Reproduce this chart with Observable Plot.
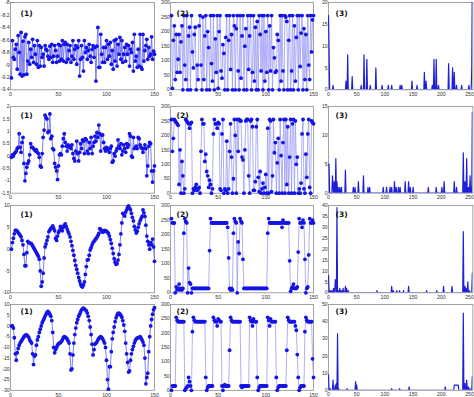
<!DOCTYPE html>
<html><head><meta charset="utf-8">
<script src="https://cdn.jsdelivr.net/npm/d3@7"></script>
<script src="https://cdn.jsdelivr.net/npm/@observablehq/plot@0.6"></script>
<style>
body{margin:0;background:#fff;}
#c{position:relative;width:474px;height:397px;overflow:hidden;background:#fff;}
#c svg{position:absolute;overflow:visible;}
</style></head><body><div id="c"></div>
<script>
// ---------- DATA ----------
const labels = ["(1)", "(2)", "(3)"];
const xTicksSeq = [0, 50, 100, 150];
const xTicksHist = [0, 50, 100, 150, 200, 250];
const yTicks1 = [[-9.4,-9.2,-9,-8.8,-8.6,-8.4,-8.2,-8],[-1.5,-1,-0.5,0,0.5,1,1.5,2],[-10,-5,0,5,10],[-30,-25,-20,-15,-10,-5,0,5,10]];
const yTicks2 = [0, 50, 100, 150, 200, 250, 300];
const yTicks3 = [[0,5,10,15,20],[0,5,10,15],[0,5,10,15,20,25,30,35,40],[0,10,20,30,40,50]];

// column (1): sequences, index 1..150
const seq1a = [-9.21,-8.61,-8.88,-8.91,-8.75,-8.67,-9.07,-8.53,-8.80,-9.15,-8.48,-9.18,-8.62,-9.16,-8.55,
-8.51,-9.15,-8.94,-8.64,-8.99,-8.75,-8.88,-8.59,-8.96,-8.69,-8.83,-8.99,-8.61,-9.04,-8.69,
-9.02,-8.72,-8.88,-8.83,-9.02,-8.69,-8.75,-8.77,-8.86,-8.91,-8.70,-8.88,-8.67,-8.96,-8.86,
-8.69,-8.77,-8.96,-8.86,-8.67,-8.94,-8.69,-8.91,-8.61,-8.94,-8.67,-8.64,-8.96,-8.67,-8.91,
-8.77,-8.69,-8.96,-8.86,-8.61,-8.91,-8.75,-8.69,-8.99,-8.72,-8.61,-9.18,-8.91,-8.69,-8.88,
-9.10,-8.61,-8.80,-8.72,-8.91,-8.77,-8.67,-8.86,-8.96,-8.75,-8.69,-8.88,-8.72,-9.26,-8.70,
-8.40,-9.04,-9.04,-8.51,-8.83,-8.96,-8.72,-8.96,-8.72,-8.61,-8.91,-8.67,-8.86,-8.64,-8.99,
-8.77,-9.07,-8.61,-8.94,-8.59,-9.02,-8.67,-8.83,-8.56,-8.91,-8.61,-8.96,-8.83,-8.72,-8.94,
-8.67,-8.83,-8.69,-9.02,-8.75,-8.80,-8.64,-9.10,-8.51,-8.94,-8.86,-9.04,-8.75,-9.02,-8.51,
-9.04,-9.07,-8.51,-8.94,-8.77,-8.69,-8.59,-8.91,-8.72,-8.86,-8.83,-8.55,-8.91,-8.78,-8.83];
const seq1b = [-0.05,0.05,0.0,0.1,0.15,0.2,0.3,0.35,0.9,0.35,0.15,0.55,0.75,-0.3,-1.0,
-0.7,-0.45,-0.3,-0.2,0.05,0.5,0.35,0.35,0.3,0.25,0.2,0.25,0.15,0.1,-0.05,
-0.4,-0.45,0.1,0.75,1.05,1.65,1.55,1.5,0.95,1.0,1.7,0.7,0.8,0.3,0.25,
-0.3,-0.45,-0.6,-0.95,-0.4,0.05,0.1,0.05,0.4,0.7,0.9,0.55,0.4,0.2,0.45,
0.35,0.4,0.3,0.45,0.1,-0.1,-0.2,0.2,0.6,0.1,-0.2,0.15,0.5,0.3,0.65,
0.6,0.1,0.7,0.65,0.2,0.1,0.55,0.3,0.75,0.1,0.4,0.55,0.8,0.6,0.95,
0.75,1.25,0.9,0.2,0.85,0.85,0.55,0.3,0.2,0.35,0.25,0.3,0.15,0.3,0.4,
-0.25,-0.2,0.1,0.0,0.2,0.3,0.65,0.4,0.3,0.5,0.05,0.2,0.45,0.3,0.15,
0.5,0.35,0.45,0.9,0.8,0.0,-0.05,0.75,0.3,0.35,0.4,0.3,0.75,0.7,0.45,
0.35,0.3,0.15,0.3,0.45,0.3,-0.8,-0.4,0.4,0.55,0.5,-0.6,-1.05,-0.6,-0.4];
const seq1c = [0.0,1.5,2.5,3.5,4.3,4.3,4.1,3.8,3.5,3.2,2.8,2.0,1.0,-1.2,-3.8,
-3.8,-0.8,1.8,1.5,1.4,1.3,1.2,0.8,0.4,0.0,-0.4,-0.8,-1.2,-1.6,-2.3,
-5.0,-8.5,-7.5,-5.5,-2.0,0.5,1.2,2.0,2.8,4.0,4.4,4.7,5.0,5.3,4.8,
4.2,2.5,2.0,3.0,3.8,4.3,5.2,4.8,4.2,5.0,5.5,5.8,5.2,4.6,4.0,
3.5,2.8,1.8,0.8,-0.3,-1.4,-2.6,-3.7,-4.6,-5.5,-6.5,-7.3,-8.0,-8.5,-8.7,
-8.2,-7.5,-5.8,-4.0,-2.5,-2.4,-1.4,-0.2,0.4,1.0,1.5,1.8,2.1,2.4,2.7,
3.1,3.6,4.7,4.5,4.2,3.9,4.0,4.3,4.2,4.1,3.9,3.6,3.0,2.2,1.3,
0.2,-1.0,-2.2,-3.0,-3.5,-3.3,-2.5,-1.2,1.0,3.5,6.0,8.2,8.0,7.6,8.5,
9.0,9.6,9.9,9.4,9.0,8.2,7.3,6.5,5.2,4.4,3.7,4.1,5.0,5.8,6.5,
7.0,7.5,9.0,8.3,7.5,5.5,3.0,1.8,1.0,0.0,1.5,1.0,2.3,0.5,-2.8];
const seq1d = [0,0,-1,-5.5,-13,-16,-12.5,-10.5,-9,-8,-7.2,-6.5,-5.8,-5,-4.5,
-4.2,-4.3,-4.7,-5.3,-6.5,-7.2,-8,-13,-18,-14,-13.5,-9,-6.5,-5,-3,
-1.5,0,1.5,2.5,3.5,4.5,5.5,6.3,6.8,6.3,5.5,4.5,2.5,-3,-10,
-12.5,-11,-10,-9,-8.2,-8,-7.8,-7.2,-6.5,-5.5,-5,-5.2,-5.6,-6,-7,
-8,-13,-20.5,-20,-13.5,-8,-4,-1,1.5,3,4.5,5.5,6.5,7.5,8.0,
8.3,8.0,7.5,7.0,6.0,4.5,2.5,-0.5,-4,-8.5,-13.5,-11,-8.5,-8,-7.5,
-6.5,-5.8,-5.3,-5,-5.5,-6,-7,-8,-10,-16,-25,-29.5,-19,-19,-12,
-6,-3,-0.5,2,3.8,5.0,5.8,6.0,5.5,5.0,4.0,2.5,0.5,-2.5,-8,
-13,-17,-21.5,-21,-16,-13,-11,-9.5,-8,-6.8,-6,-5.7,-5.5,-5.3,-5.0,
-5.6,-6.5,-7.5,-9,-15,-27,-24,-22,-12,-5,0,3,5.5,7.5,8.5];

// column (2): sequences, index 1..150
const seq2a = [255,5,170,220,35,190,60,105,190,60,165,220,0,255,85,35,255,0,185,215,0,255,130,75,190,215,0,85,35,220,255,85,0,250,35,185,255,0,200,145,0,255,90,30,255,0,175,60,255,5,
200,255,65,40,155,125,0,180,255,0,170,255,70,190,0,255,220,0,210,255,65,0,255,40,185,255,0,150,210,0,255,70,185,255,0,60,255,30,215,0,235,0,255,190,65,255,0,255,30,200,
60,255,0,220,65,255,0,145,110,60,65,190,170,0,255,30,255,65,0,255,250,235,0,170,255,0,65,255,0,220,30,180,255,0,255,80,195,255,0,210,35,190,0,255,85,35,255,130,240,255];
const seq2b = [255,145,190,255,250,245,240,235,30,150,0,110,60,0,15,255,250,245,240,225,240,245,0,15,10,20,30,10,15,20,0,145,255,240,240,110,135,75,60,20,45,30,0,15,205,255,240,240,225,245,
240,15,10,205,255,0,15,10,180,0,15,145,240,125,0,50,255,200,0,255,145,255,250,250,125,115,0,150,250,255,255,60,0,250,255,230,10,10,40,230,255,55,5,75,0,15,35,0,20,65,
0,225,0,255,250,5,60,255,140,175,0,105,190,0,255,130,0,175,255,0,255,30,230,0,125,255,0,240,255,0,250,100,125,0,15,0,35,205,255,15,0,135,55,205,255,20,0,250,245,240];
const seq2c = [255,240,240,240,0,20,10,15,30,10,15,10,15,205,255,245,240,0,85,35,30,0,
15,15,15,15,15,15,15,15,15,15,15,15,15,15,15,15,15,15,145,255,
240,240,240,240,240,240,240,240,240,240,240,240,240,240,240,240,240,225,120,15,10,15,10,205,255,245,240,0,175,135,255,245,240,115,
15,15,15,15,15,15,15,15,15,15,15,15,15,15,15,15,15,15,15,15,15,15,15,15,15,
205,255,240,240,240,240,240,240,240,240,240,240,240,240,240,225,250,240,240,240,240,240,240,
110,5,15,20,30,15,15,15,20,140,255,240,240,225,250,240,115,0,15,20,130,255,240,240,250,240];
const seq2d = [0,15,15,15,15,255,245,240,240,240,240,240,240,240,0,5,10,15,45,30,15,0,
205,255,245,240,240,240,240,240,240,240,240,240,240,240,45,0,10,15,15,15,15,15,
255,245,240,240,225,250,245,240,240,15,0,15,20,15,15,15,15,140,
255,245,240,240,240,240,240,240,240,240,240,15,10,15,15,15,15,15,15,15,
255,245,240,225,250,240,240,240,45,0,10,15,15,15,15,15,15,15,15,
255,245,225,250,240,240,240,240,240,45,0,10,15,15,15,15,15,15,15,15,
140,255,245,240,240,240,240,240,240,225,210,125,45,0,10,15,15,15,15,
205,255,245,240,240,240,240,240,110,45];

// column (3): histograms over 0..255, listed as [bin, count]; every other bin is 0
const hist3a = [[0,17],[1,9],[8,1],[31,2],[34,8],[42,3],[58,1],[63,8],[68,7],[74,1],[84,5],[95,1],[106,1],[112,1],[127,1],[130,1],[148,2],[157,1],[170,4],[173,2],[184,1],[187,7],[191,7],[195,1],[213,6],[220,5],[223,4],[227,1],[236,1],[249,1],[254,5],[255,25]];
const hist3b = [[0,5],[1,5],[7,3],[8,1],[10,2],[13,6],[15,2],[17,1],[20,1],[23,1],[30,4],[44,1],[47,1],[53,2],[62,3],[70,1],[73,1],[97,1],[103,1],[109,1],[112,1],[117,2],[120,1],[124,1],[127,1],[136,2],[142,2],[145,1],[150,1],[177,1],[191,1],[201,1],[205,2],[223,2],[227,1],[239,7],[242,2],[245,6],[248,1],[251,3],[253,1],[255,14]];
const hist3c = [[0,8],[3,1],[6,1],[9,2],[12,6],[13,3],[15,39],[17,1],[20,2],[23,1],[26,2],[30,3],[32,2],[35,1],[86,1],[112,3],[115,1],[121,1],[126,1],[133,1],[142,3],[174,1],[192,1],[204,3],[219,3],[239,28],[242,3],[244,2],[247,5],[250,1],[255,9]];
const hist3d = [[0,9],[3,1],[8,6],[10,1],[12,3],[14,4],[16,33],[18,1],[33,1],[48,5],[50,3],[112,1],[126,1],[143,2],[207,2],[223,3],[224,3],[225,3],[226,3],[227,3],[228,3],[229,3],[230,3],[239,45],[242,4],[245,6],[248,2],[251,1],[255,8]];

// ---------- LAYOUT ----------
const colFrames = [[10,154],[170,313],[328,472.4]];
const rowFrames = [[1.7,89],[106,192.7],[205,292.3],[303.5,389.3]];
const labelDx = [10, 6, 7];
const labelDy = [11, 9, 9.5, 7.5];
const M = {l: 18, r: 3, t: 3, b: 11};
const dotColor = "#1414e6";
const lineColor1 = "#5c5cf5";
const lineColor2 = "#9a9af8";
const histColor = "#1f1fd9";
const frameColor = "#8c8c8c";

const seqs = [[seq1a, seq2a], [seq1b, seq2b], [seq1c, seq2c], [seq1d, seq2d]];
const hists = [hist3a, hist3b, hist3c, hist3d];
const fmt = d => String(d);
const container = document.getElementById("c");

function place(svg, col, row) {
  const [fl] = colFrames[col], [ft] = rowFrames[row];
  svg.style.left = (fl - M.l) + "px";
  svg.style.top = (ft - M.t) + "px";
  container.appendChild(svg);
}

function common(col, row, xDomain, xTicks, yDomain, yTicks) {
  const [fl, fr] = colFrames[col], [ft, fb] = rowFrames[row];
  return {
    width: (fr - fl) + M.l + M.r,
    height: (fb - ft) + M.t + M.b,
    marginLeft: M.l, marginRight: M.r, marginTop: M.t, marginBottom: M.b,
    style: {fontSize: "5.2px", fontFamily: "'Liberation Sans', Arial, sans-serif", color: "#333", background: "transparent", overflow: "visible"},
    x: {domain: xDomain, ticks: xTicks, tickSize: 0, tickPadding: 2.5, label: null, tickFormat: fmt},
    y: {domain: yDomain, ticks: yTicks, tickSize: 0, tickPadding: 0.8, label: null, tickFormat: fmt}
  };
}

function titleMark(col, row) {
  return Plot.text([labels[col]], {frameAnchor: "top-left", dx: labelDx[col], dy: labelDy[row], textAnchor: "start", lineAnchor: "middle", fontSize: 7.5, fontWeight: "bold", fill: "#111", fontFamily: "DejaVu Sans, sans-serif"});
}

const yDomains1 = [[-9.4,-8],[-1.5,2],[-10,10],[-30,10]];
const yDomains3 = [[0,20],[0,15],[0,40],[0,50]];

for (let row = 0; row < 4; row++) {
  for (let col = 0; col < 2; col++) {
    const data = seqs[row][col].map((v, i) => ({i: i + 1, v}));
    const yDom = col === 0 ? yDomains1[row] : [0, 300];
    const yT = col === 0 ? yTicks1[row] : yTicks2;
    const svg = Plot.plot({
      ...common(col, row, [0, 150], xTicksSeq, yDom, yT),
      marks: [
        Plot.frame({stroke: frameColor, strokeWidth: 0.8}),
        Plot.line(data, {x: "i", y: "v", stroke: col === 0 ? lineColor1 : lineColor2, strokeWidth: 0.8}),
        Plot.dot(data, {x: "i", y: "v", r: 1.9, fill: dotColor, stroke: "none"}),
        titleMark(col, row)
      ]
    });
    place(svg, col, row);
  }
  const m = new Map(hists[row]);
  const hdata = d3.range(0, 256).map(b => ({b, n: m.get(b) ?? 0}));
  const svg3 = Plot.plot({
    ...common(2, row, [0, 256], xTicksHist, yDomains3[row], yTicks3[row]),
    marks: [
      Plot.frame({stroke: frameColor, strokeWidth: 0.8}),
      Plot.line(hdata, {x: "b", y: "n", stroke: histColor, strokeWidth: 1.2, clip: true}),
      titleMark(2, row)
    ]
  });
  place(svg3, 2, row);
}
</script>
</body></html>
